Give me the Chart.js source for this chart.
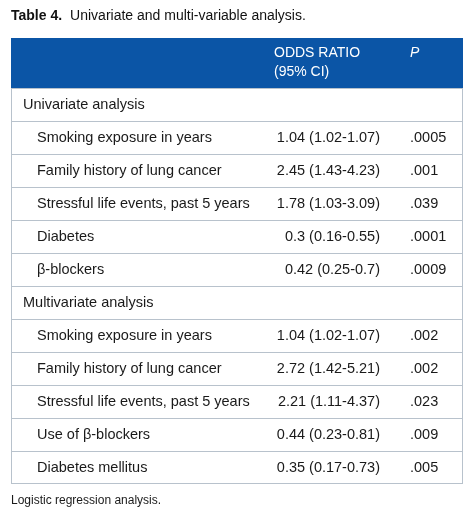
<!DOCTYPE html>
<html><head><meta charset="utf-8">
<script src="https://cdn.jsdelivr.net/npm/chart.js@4"></script>
<style>html,body{margin:0;background:#fff}#wrap{width:474px;height:518px}</style>
</head><body><div id="wrap"><canvas id="c"></canvas></div>
<script>
// table content
const title = ['Table 4.', 'Univariate and multi-variable analysis.'];
const headers = ['ODDS RATIO', '(95% CI)', 'P'];
const sections = ['Univariate analysis', 'Multivariate analysis'];
const uniLabels = ['Smoking exposure in years','Family history of lung cancer','Stressful life events, past 5 years','Diabetes','β-blockers'];
const uniOR = ['1.04 (1.02-1.07)','2.45 (1.43-4.23)','1.78 (1.03-3.09)','0.3 (0.16-0.55)','0.42 (0.25-0.7)'];
const uniP = ['.0005','.001','.039','.0001','.0009'];
const multiLabels = ['Smoking exposure in years','Family history of lung cancer','Stressful life events, past 5 years','Use of β-blockers','Diabetes mellitus'];
const multiOR = ['1.04 (1.02-1.07)','2.72 (1.42-5.21)','2.21 (1.11-4.37)','0.44 (0.23-0.81)','0.35 (0.17-0.73)'];
const multiP = ['.002','.002','.023','.009','.005'];
const footnote = 'Logistic regression analysis.';

const FONT = '"Liberation Sans", Arial, sans-serif';
const rows = [];
rows.push({label:sections[0], section:true});
uniLabels.forEach((l,i)=>rows.push({label:l, or:uniOR[i], p:uniP[i]}));
rows.push({label:sections[1], section:true});
multiLabels.forEach((l,i)=>rows.push({label:l, or:multiOR[i], p:multiP[i]}));

const tablePlugin = {
  id:'table',
  afterDraw(chart){
    const {ctx, scales:{x,y}} = chart;
    const X = v=>x.getPixelForValue(v), Y = v=>y.getPixelForValue(v);
    ctx.save();
    ctx.textBaseline = 'middle';
    // title
    ctx.fillStyle = '#111';
    ctx.font = 'bold 14px '+FONT;
    ctx.fillText(title[0], X(11), Y(16));
    const w = ctx.measureText(title[0]).width;
    ctx.font = '14px '+FONT;
    ctx.fillText(title[1], X(11)+w+8, Y(16));
    // header
    const top=38, hh=50, rh=33, left=11, right=463;
    ctx.fillStyle = '#0b55a6';
    ctx.fillRect(X(left), Y(top), X(right)-X(left), Y(top+hh)-Y(top));
    ctx.fillStyle = '#fff';
    ctx.font = '14px '+FONT;
    ctx.fillText(headers[0], X(274), Y(53));
    ctx.fillText(headers[1], X(274), Y(72));
    ctx.font = 'italic 14px '+FONT;
    ctx.fillText(headers[2], X(410), Y(53));
    // body
    ctx.strokeStyle = '#b8c2cc'; ctx.lineWidth = 1;
    const bottom = top+hh+rh*rows.length;
    ctx.strokeRect(X(left)+0.5, Y(top+hh)+0.5, X(right)-X(left)-1, Y(bottom)-Y(top+hh)-1);
    ctx.font = '14.5px '+FONT;
    ctx.fillStyle = '#1a1a1a';
    rows.forEach((r,i)=>{
      const cy = top+hh+rh*i+rh/2;
      if(i>0){ ctx.beginPath(); ctx.moveTo(X(left),Y(top+hh+rh*i)+0.5); ctx.lineTo(X(right),Y(top+hh+rh*i)+0.5); ctx.stroke(); }
      ctx.textAlign='left';
      ctx.fillText(r.label, X(r.section?23:37), Y(cy));
      if(!r.section){
        ctx.textAlign='right'; ctx.fillText(r.or, X(380), Y(cy));
        ctx.textAlign='left'; ctx.fillText(r.p, X(410), Y(cy));
      }
    });
    ctx.font = '12px '+FONT; ctx.textAlign='left';
    ctx.fillText(footnote, X(11), Y(501));
    ctx.restore();
  }
};

new Chart(document.getElementById('c'), {
  type:'scatter',
  data:{datasets:[{data:[]}]},
  options:{
    responsive:true, maintainAspectRatio:false, animation:false,
    layout:{padding:0},
    plugins:{legend:{display:false}, tooltip:{enabled:false}},
    scales:{
      x:{type:'linear', min:0, max:474, display:false},
      y:{type:'linear', min:0, max:518, reverse:true, display:false}
    }
  },
  plugins:[tablePlugin]
});
</script></body></html>
